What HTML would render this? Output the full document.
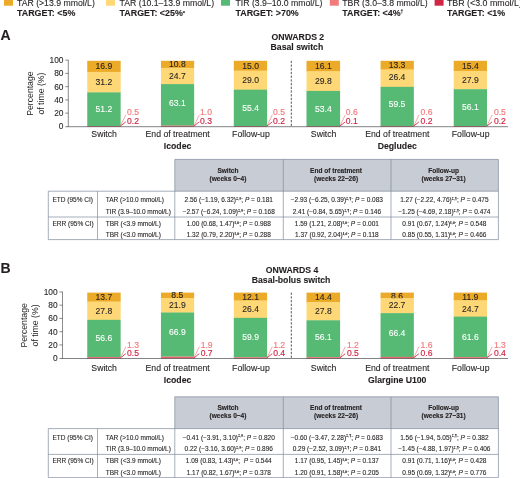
<!DOCTYPE html>
<html><head><meta charset="utf-8"><title>ONWARDS 2 and 4 CGM</title>
<style>html,body{margin:0;padding:0;background:#fff;}svg{display:block;font-family:"Liberation Sans",sans-serif;}</style>
</head><body>
<svg width="520" height="478" viewBox="0 0 520 478">
<rect width="520" height="478" fill="#ffffff"/>
<rect x="4.0" y="-1" width="9" height="6.7" fill="#ebaa27"/>
<text x="17.0" y="6.1" font-size="8.7" text-anchor="start" font-weight="normal" fill="#231f20" stroke="#231f20" stroke-width="0.1">TAR (&gt;13.9 mmol/L)</text>
<text x="17.0" y="16.35" font-size="8.9" text-anchor="start" font-weight="bold" fill="#231f20" stroke="#231f20" stroke-width="0.1">TARGET: &lt;5%</text>
<rect x="106.0" y="-1" width="9" height="6.7" fill="#fed877"/>
<text x="119.6" y="6.1" font-size="8.7" text-anchor="start" font-weight="normal" fill="#231f20" stroke="#231f20" stroke-width="0.1">TAR (10.1–13.9 mmol/L)</text>
<text x="119.6" y="16.35" font-size="8.9" text-anchor="start" font-weight="bold" fill="#231f20" stroke="#231f20" stroke-width="0.1">TARGET: &lt;25%<tspan font-size="6" dy="-1.5">*</tspan></text>
<rect x="221.0" y="-1" width="9" height="6.7" fill="#56ba74"/>
<text x="235.5" y="6.1" font-size="8.7" text-anchor="start" font-weight="normal" fill="#231f20" stroke="#231f20" stroke-width="0.1">TIR (3.9–10.0 mmol/L)</text>
<text x="235.5" y="16.35" font-size="8.9" text-anchor="start" font-weight="bold" fill="#231f20" stroke="#231f20" stroke-width="0.1">TARGET: &gt;70%</text>
<rect x="329.8" y="-1" width="9" height="6.7" fill="#f27a7b"/>
<text x="342.3" y="6.1" font-size="8.7" text-anchor="start" font-weight="normal" fill="#231f20" stroke="#231f20" stroke-width="0.1">TBR (3.0–3.8 mmol/L)</text>
<text x="342.3" y="16.35" font-size="8.9" text-anchor="start" font-weight="bold" fill="#231f20" stroke="#231f20" stroke-width="0.1">TARGET: &lt;4%<tspan font-size="5" dy="-3">†</tspan></text>
<rect x="434.6" y="-1" width="9" height="6.7" fill="#d02645"/>
<text x="446.9" y="6.1" font-size="8.85" text-anchor="start" font-weight="normal" fill="#231f20" stroke="#231f20" stroke-width="0.1">TBR (&lt;3.0 mmol/L)</text>
<text x="446.9" y="16.35" font-size="8.9" text-anchor="start" font-weight="bold" fill="#231f20" stroke="#231f20" stroke-width="0.1">TARGET: &lt;1%</text>
<text x="0.5" y="39.6" font-size="14" text-anchor="start" font-weight="bold" fill="#231f20" stroke="#231f20" stroke-width="0.1">A</text>
<text x="297.9" y="39.6" font-size="8.7" text-anchor="middle" font-weight="bold" fill="#231f20" stroke="#231f20" stroke-width="0.1">ONWARDS 2</text>
<text x="296.9" y="49.6" font-size="8.7" text-anchor="middle" font-weight="bold" fill="#231f20" stroke="#231f20" stroke-width="0.1">Basal switch</text>
<text transform="translate(32.8,93.6) rotate(-90)" font-size="8.7" text-anchor="middle" fill="#231f20">Percentage</text>
<text transform="translate(43.5,93.6) rotate(-90)" font-size="8.7" text-anchor="middle" fill="#231f20">of time (%)</text>
<rect x="87.25" y="60.80" width="33.4" height="11.39" fill="#ebaa27"/>
<text x="103.85" y="69.44" font-size="8.6" text-anchor="middle" font-weight="normal" fill="#231f20" stroke="#231f20" stroke-width="0.1">16.9</text>
<rect x="87.25" y="71.89" width="33.4" height="20.77" fill="#fed877"/>
<text x="103.85" y="85.22" font-size="8.6" text-anchor="middle" font-weight="normal" fill="#231f20" stroke="#231f20" stroke-width="0.1">31.2</text>
<rect x="87.25" y="92.35" width="33.4" height="33.89" fill="#56ba74"/>
<text x="103.85" y="112.25" font-size="8.6" text-anchor="middle" font-weight="normal" fill="#ffffff" stroke="#ffffff" stroke-width="0.1">51.2</text>
<rect x="87.25" y="125.99" width="33.4" height="0.58" fill="#f27a7b"/>
<rect x="87.25" y="126.27" width="33.4" height="0.43" fill="#d02645"/>
<line x1="120.45" y1="126.10000000000001" x2="125.85" y2="114.80000000000001" stroke="#f27a7b" stroke-width="0.65"/>
<line x1="120.45" y1="126.10000000000001" x2="125.75" y2="121.9" stroke="#d02645" stroke-width="0.85"/>
<text x="127.0" y="115.2" font-size="8.6" text-anchor="start" font-weight="normal" fill="#f27a7b" stroke="#f27a7b" stroke-width="0.15">0.5</text>
<text x="127.0" y="124.4" font-size="8.6" text-anchor="start" font-weight="normal" fill="#d02645" stroke="#d02645" stroke-width="0.15">0.2</text>
<rect x="160.95" y="60.80" width="33.2" height="7.38" fill="#ebaa27"/>
<text x="177.35" y="67.44" font-size="8.6" text-anchor="middle" font-weight="normal" fill="#231f20" stroke="#231f20" stroke-width="0.1">10.8</text>
<rect x="160.95" y="67.88" width="33.2" height="16.50" fill="#fed877"/>
<text x="177.35" y="79.09" font-size="8.6" text-anchor="middle" font-weight="normal" fill="#231f20" stroke="#231f20" stroke-width="0.1">24.7</text>
<rect x="160.95" y="84.09" width="33.2" height="41.69" fill="#56ba74"/>
<text x="177.35" y="105.68" font-size="8.6" text-anchor="middle" font-weight="normal" fill="#ffffff" stroke="#ffffff" stroke-width="0.1">63.1</text>
<rect x="160.95" y="125.58" width="33.2" height="0.86" fill="#f27a7b"/>
<rect x="160.95" y="126.14" width="33.2" height="0.50" fill="#d02645"/>
<line x1="193.95" y1="126.10000000000001" x2="199.35" y2="114.80000000000001" stroke="#f27a7b" stroke-width="0.65"/>
<line x1="193.95" y1="126.10000000000001" x2="199.25" y2="121.9" stroke="#d02645" stroke-width="0.85"/>
<text x="199.99999999999997" y="115.2" font-size="8.6" text-anchor="start" font-weight="normal" fill="#f27a7b" stroke="#f27a7b" stroke-width="0.15">1.0</text>
<text x="199.99999999999997" y="124.4" font-size="8.6" text-anchor="start" font-weight="normal" fill="#d02645" stroke="#d02645" stroke-width="0.15">0.3</text>
<rect x="233.8" y="60.80" width="33.3" height="10.14" fill="#ebaa27"/>
<text x="250.65" y="68.82" font-size="8.6" text-anchor="middle" font-weight="normal" fill="#231f20" stroke="#231f20" stroke-width="0.1">15.0</text>
<rect x="233.8" y="70.64" width="33.3" height="19.32" fill="#fed877"/>
<text x="250.65" y="83.25" font-size="8.6" text-anchor="middle" font-weight="normal" fill="#231f20" stroke="#231f20" stroke-width="0.1">29.0</text>
<rect x="233.8" y="89.66" width="33.3" height="36.64" fill="#56ba74"/>
<text x="250.65" y="110.94" font-size="8.6" text-anchor="middle" font-weight="normal" fill="#ffffff" stroke="#ffffff" stroke-width="0.1">55.4</text>
<rect x="233.8" y="126.06" width="33.3" height="0.58" fill="#f27a7b"/>
<rect x="233.8" y="126.33" width="33.3" height="0.43" fill="#d02645"/>
<line x1="266.90" y1="126.10000000000001" x2="272.30" y2="114.80000000000001" stroke="#f27a7b" stroke-width="0.65"/>
<line x1="266.90" y1="126.10000000000001" x2="272.20" y2="121.9" stroke="#d02645" stroke-width="0.85"/>
<text x="273.0" y="115.2" font-size="8.6" text-anchor="start" font-weight="normal" fill="#f27a7b" stroke="#f27a7b" stroke-width="0.15">0.5</text>
<text x="273.0" y="124.4" font-size="8.6" text-anchor="start" font-weight="normal" fill="#d02645" stroke="#d02645" stroke-width="0.15">0.2</text>
<rect x="306.5" y="60.80" width="33.6" height="10.86" fill="#ebaa27"/>
<text x="323.35" y="69.18" font-size="8.6" text-anchor="middle" font-weight="normal" fill="#231f20" stroke="#231f20" stroke-width="0.1">16.1</text>
<rect x="306.5" y="71.36" width="33.6" height="19.85" fill="#fed877"/>
<text x="323.35" y="84.24" font-size="8.6" text-anchor="middle" font-weight="normal" fill="#231f20" stroke="#231f20" stroke-width="0.1">29.8</text>
<rect x="306.5" y="90.91" width="33.6" height="35.33" fill="#56ba74"/>
<text x="323.35" y="111.53" font-size="8.6" text-anchor="middle" font-weight="normal" fill="#ffffff" stroke="#ffffff" stroke-width="0.1">53.4</text>
<rect x="306.5" y="126.00" width="33.6" height="0.63" fill="#f27a7b"/>
<rect x="306.5" y="126.33" width="33.6" height="0.37" fill="#d02645"/>
<line x1="339.90" y1="126.10000000000001" x2="345.30" y2="114.80000000000001" stroke="#f27a7b" stroke-width="0.65"/>
<line x1="339.90" y1="126.10000000000001" x2="345.20" y2="121.9" stroke="#d02645" stroke-width="0.85"/>
<text x="345.79999999999995" y="115.2" font-size="8.6" text-anchor="start" font-weight="normal" fill="#f27a7b" stroke="#f27a7b" stroke-width="0.15">0.6</text>
<text x="345.79999999999995" y="124.4" font-size="8.6" text-anchor="start" font-weight="normal" fill="#d02645" stroke="#d02645" stroke-width="0.15">0.1</text>
<rect x="380.55" y="60.80" width="33.3" height="9.02" fill="#ebaa27"/>
<text x="397.05" y="68.26" font-size="8.6" text-anchor="middle" font-weight="normal" fill="#231f20" stroke="#231f20" stroke-width="0.1">13.3</text>
<rect x="380.55" y="69.52" width="33.3" height="17.62" fill="#fed877"/>
<text x="397.05" y="80.38" font-size="8.6" text-anchor="middle" font-weight="normal" fill="#231f20" stroke="#231f20" stroke-width="0.1">26.4</text>
<rect x="380.55" y="86.84" width="33.3" height="39.33" fill="#56ba74"/>
<text x="397.05" y="107.46" font-size="8.6" text-anchor="middle" font-weight="normal" fill="#ffffff" stroke="#ffffff" stroke-width="0.1">59.5</text>
<rect x="380.55" y="125.93" width="33.3" height="0.63" fill="#f27a7b"/>
<rect x="380.55" y="126.27" width="33.3" height="0.43" fill="#d02645"/>
<line x1="413.65" y1="126.10000000000001" x2="419.05" y2="114.80000000000001" stroke="#f27a7b" stroke-width="0.65"/>
<line x1="413.65" y1="126.10000000000001" x2="418.95" y2="121.9" stroke="#d02645" stroke-width="0.85"/>
<text x="420.59999999999997" y="115.2" font-size="8.6" text-anchor="start" font-weight="normal" fill="#f27a7b" stroke="#f27a7b" stroke-width="0.15">0.6</text>
<text x="420.59999999999997" y="124.4" font-size="8.6" text-anchor="start" font-weight="normal" fill="#d02645" stroke="#d02645" stroke-width="0.15">0.2</text>
<rect x="453.7" y="60.80" width="33.3" height="10.40" fill="#ebaa27"/>
<text x="470.35" y="68.95" font-size="8.6" text-anchor="middle" font-weight="normal" fill="#231f20" stroke="#231f20" stroke-width="0.1">15.4</text>
<rect x="453.7" y="70.90" width="33.3" height="18.60" fill="#fed877"/>
<text x="470.35" y="83.15" font-size="8.6" text-anchor="middle" font-weight="normal" fill="#231f20" stroke="#231f20" stroke-width="0.1">27.9</text>
<rect x="453.7" y="89.20" width="33.3" height="37.10" fill="#56ba74"/>
<text x="470.35" y="110.21" font-size="8.6" text-anchor="middle" font-weight="normal" fill="#ffffff" stroke="#ffffff" stroke-width="0.1">56.1</text>
<rect x="453.7" y="126.06" width="33.3" height="0.58" fill="#f27a7b"/>
<rect x="453.7" y="126.33" width="33.3" height="0.43" fill="#d02645"/>
<line x1="486.80" y1="126.10000000000001" x2="492.20" y2="114.80000000000001" stroke="#f27a7b" stroke-width="0.65"/>
<line x1="486.80" y1="126.10000000000001" x2="492.10" y2="121.9" stroke="#d02645" stroke-width="0.85"/>
<text x="493.9" y="115.2" font-size="8.6" text-anchor="start" font-weight="normal" fill="#f27a7b" stroke="#f27a7b" stroke-width="0.15">0.5</text>
<text x="493.9" y="124.4" font-size="8.6" text-anchor="start" font-weight="normal" fill="#d02645" stroke="#d02645" stroke-width="0.15">0.2</text>
<line x1="68.3" y1="59.85000000000001" x2="68.3" y2="127.05000000000001" stroke="#58595b" stroke-width="0.7"/>
<line x1="65.3" y1="126.7" x2="508" y2="126.7" stroke="#58595b" stroke-width="0.75"/>
<text x="63.5" y="129.4" font-size="8.4" text-anchor="end" font-weight="normal" fill="#231f20" stroke="#231f20" stroke-width="0.1">0</text>
<line x1="65.3" y1="113.15" x2="68.3" y2="113.15" stroke="#58595b" stroke-width="0.7"/>
<text x="63.5" y="116.15" font-size="8.4" text-anchor="end" font-weight="normal" fill="#231f20" stroke="#231f20" stroke-width="0.1">20</text>
<line x1="65.3" y1="99.90" x2="68.3" y2="99.90" stroke="#58595b" stroke-width="0.7"/>
<text x="63.5" y="102.9" font-size="8.4" text-anchor="end" font-weight="normal" fill="#231f20" stroke="#231f20" stroke-width="0.1">40</text>
<line x1="65.3" y1="86.65" x2="68.3" y2="86.65" stroke="#58595b" stroke-width="0.7"/>
<text x="63.5" y="89.65" font-size="8.4" text-anchor="end" font-weight="normal" fill="#231f20" stroke="#231f20" stroke-width="0.1">60</text>
<line x1="65.3" y1="73.40" x2="68.3" y2="73.40" stroke="#58595b" stroke-width="0.7"/>
<text x="63.5" y="76.4" font-size="8.4" text-anchor="end" font-weight="normal" fill="#231f20" stroke="#231f20" stroke-width="0.1">80</text>
<line x1="65.3" y1="60.15" x2="68.3" y2="60.15" stroke="#58595b" stroke-width="0.7"/>
<text x="63.5" y="63.15" font-size="8.4" text-anchor="end" font-weight="normal" fill="#231f20" stroke="#231f20" stroke-width="0.1">100</text>
<line x1="291.3" y1="60.8" x2="291.3" y2="126.4" stroke="#58595b" stroke-width="1" stroke-dasharray="2.3 1.4"/>
<text x="104.14999999999999" y="136.5" font-size="8.7" text-anchor="middle" font-weight="normal" fill="#231f20" stroke="#231f20" stroke-width="0.1">Switch</text>
<text x="177.65" y="136.5" font-size="8.7" text-anchor="middle" font-weight="normal" fill="#231f20" stroke="#231f20" stroke-width="0.1">End of treatment</text>
<text x="250.95000000000002" y="136.5" font-size="8.7" text-anchor="middle" font-weight="normal" fill="#231f20" stroke="#231f20" stroke-width="0.1">Follow-up</text>
<text x="323.65000000000003" y="136.5" font-size="8.7" text-anchor="middle" font-weight="normal" fill="#231f20" stroke="#231f20" stroke-width="0.1">Switch</text>
<text x="397.35" y="136.5" font-size="8.7" text-anchor="middle" font-weight="normal" fill="#231f20" stroke="#231f20" stroke-width="0.1">End of treatment</text>
<text x="470.65000000000003" y="136.5" font-size="8.7" text-anchor="middle" font-weight="normal" fill="#231f20" stroke="#231f20" stroke-width="0.1">Follow-up</text>
<text x="177.54999999999998" y="149" font-size="8.7" text-anchor="middle" font-weight="bold" fill="#231f20" stroke="#231f20" stroke-width="0.1">Icodec</text>
<text x="397.25" y="149" font-size="8.7" text-anchor="middle" font-weight="bold" fill="#231f20" stroke="#231f20" stroke-width="0.1">Degludec</text>
<text x="0.5" y="273" font-size="14" text-anchor="start" font-weight="bold" fill="#231f20" stroke="#231f20" stroke-width="0.1">B</text>
<text x="292.1" y="273.1" font-size="8.7" text-anchor="middle" font-weight="bold" fill="#231f20" stroke="#231f20" stroke-width="0.1">ONWARDS 4</text>
<text x="291.1" y="283.1" font-size="8.7" text-anchor="middle" font-weight="bold" fill="#231f20" stroke="#231f20" stroke-width="0.1">Basal-bolus switch</text>
<text transform="translate(27.0,325.4) rotate(-90)" font-size="8.7" text-anchor="middle" fill="#231f20">Percentage</text>
<text transform="translate(37.7,325.4) rotate(-90)" font-size="8.7" text-anchor="middle" fill="#231f20">of time (%)</text>
<rect x="87.25" y="292.60" width="33.4" height="9.29" fill="#ebaa27"/>
<text x="103.85" y="300.19" font-size="8.6" text-anchor="middle" font-weight="normal" fill="#231f20" stroke="#231f20" stroke-width="0.1">13.7</text>
<rect x="87.25" y="301.59" width="33.4" height="18.54" fill="#fed877"/>
<text x="103.85" y="313.81" font-size="8.6" text-anchor="middle" font-weight="normal" fill="#231f20" stroke="#231f20" stroke-width="0.1">27.8</text>
<rect x="87.25" y="319.82" width="33.4" height="37.43" fill="#56ba74"/>
<text x="103.85" y="341.49" font-size="8.6" text-anchor="middle" font-weight="normal" fill="#ffffff" stroke="#ffffff" stroke-width="0.1">56.6</text>
<rect x="87.25" y="357.08" width="33.4" height="1.02" fill="#f27a7b"/>
<rect x="87.25" y="357.81" width="33.4" height="0.63" fill="#d02645"/>
<line x1="120.45" y1="357.9" x2="125.85" y2="346.59999999999997" stroke="#f27a7b" stroke-width="0.65"/>
<line x1="120.45" y1="357.9" x2="125.75" y2="353.7" stroke="#d02645" stroke-width="0.85"/>
<text x="127.10000000000001" y="348.0" font-size="8.6" text-anchor="start" font-weight="normal" fill="#f27a7b" stroke="#f27a7b" stroke-width="0.15">1.3</text>
<text x="127.10000000000001" y="355.59999999999997" font-size="8.6" text-anchor="start" font-weight="normal" fill="#d02645" stroke="#d02645" stroke-width="0.15">0.5</text>
<rect x="160.95" y="292.60" width="33.2" height="5.88" fill="#ebaa27"/>
<text x="177.35" y="298.19" font-size="8.6" text-anchor="middle" font-weight="normal" fill="#231f20" stroke="#231f20" stroke-width="0.1">8.5</text>
<rect x="160.95" y="298.18" width="33.2" height="14.67" fill="#fed877"/>
<text x="177.35" y="308.46" font-size="8.6" text-anchor="middle" font-weight="normal" fill="#231f20" stroke="#231f20" stroke-width="0.1">21.9</text>
<rect x="160.95" y="312.54" width="33.2" height="44.19" fill="#56ba74"/>
<text x="177.35" y="335.09" font-size="8.6" text-anchor="middle" font-weight="normal" fill="#ffffff" stroke="#ffffff" stroke-width="0.1">66.9</text>
<rect x="160.95" y="356.62" width="33.2" height="1.36" fill="#f27a7b"/>
<rect x="160.95" y="357.68" width="33.2" height="0.76" fill="#d02645"/>
<line x1="193.95" y1="357.9" x2="199.35" y2="346.59999999999997" stroke="#f27a7b" stroke-width="0.65"/>
<line x1="193.95" y1="357.9" x2="199.25" y2="353.7" stroke="#d02645" stroke-width="0.85"/>
<text x="200.7" y="348.0" font-size="8.6" text-anchor="start" font-weight="normal" fill="#f27a7b" stroke="#f27a7b" stroke-width="0.15">1.9</text>
<text x="200.7" y="355.59999999999997" font-size="8.6" text-anchor="start" font-weight="normal" fill="#d02645" stroke="#d02645" stroke-width="0.15">0.7</text>
<rect x="233.8" y="292.60" width="33.3" height="8.24" fill="#ebaa27"/>
<text x="250.65" y="300.27" font-size="8.6" text-anchor="middle" font-weight="normal" fill="#231f20" stroke="#231f20" stroke-width="0.1">12.1</text>
<rect x="233.8" y="300.54" width="33.3" height="17.62" fill="#fed877"/>
<text x="250.65" y="312.3" font-size="8.6" text-anchor="middle" font-weight="normal" fill="#231f20" stroke="#231f20" stroke-width="0.1">26.4</text>
<rect x="233.8" y="317.86" width="33.3" height="39.59" fill="#56ba74"/>
<text x="250.65" y="340.1" font-size="8.6" text-anchor="middle" font-weight="normal" fill="#ffffff" stroke="#ffffff" stroke-width="0.1">59.9</text>
<rect x="233.8" y="357.27" width="33.3" height="0.97" fill="#f27a7b"/>
<rect x="233.8" y="357.94" width="33.3" height="0.56" fill="#d02645"/>
<line x1="266.90" y1="357.9" x2="272.30" y2="346.59999999999997" stroke="#f27a7b" stroke-width="0.65"/>
<line x1="266.90" y1="357.9" x2="272.20" y2="353.7" stroke="#d02645" stroke-width="0.85"/>
<text x="273.2" y="348.0" font-size="8.6" text-anchor="start" font-weight="normal" fill="#f27a7b" stroke="#f27a7b" stroke-width="0.15">1.2</text>
<text x="273.2" y="355.59999999999997" font-size="8.6" text-anchor="start" font-weight="normal" fill="#d02645" stroke="#d02645" stroke-width="0.15">0.4</text>
<rect x="306.5" y="292.60" width="33.6" height="9.75" fill="#ebaa27"/>
<text x="323.35" y="300.42" font-size="8.6" text-anchor="middle" font-weight="normal" fill="#231f20" stroke="#231f20" stroke-width="0.1">14.4</text>
<rect x="306.5" y="302.05" width="33.6" height="18.54" fill="#fed877"/>
<text x="323.35" y="314.26" font-size="8.6" text-anchor="middle" font-weight="normal" fill="#231f20" stroke="#231f20" stroke-width="0.1">27.8</text>
<rect x="306.5" y="320.28" width="33.6" height="37.10" fill="#56ba74"/>
<text x="323.35" y="340.28" font-size="8.6" text-anchor="middle" font-weight="normal" fill="#ffffff" stroke="#ffffff" stroke-width="0.1">56.1</text>
<rect x="306.5" y="357.20" width="33.6" height="0.97" fill="#f27a7b"/>
<rect x="306.5" y="357.87" width="33.6" height="0.63" fill="#d02645"/>
<line x1="339.90" y1="357.9" x2="345.30" y2="346.59999999999997" stroke="#f27a7b" stroke-width="0.65"/>
<line x1="339.90" y1="357.9" x2="345.20" y2="353.7" stroke="#d02645" stroke-width="0.85"/>
<text x="346.9" y="348.0" font-size="8.6" text-anchor="start" font-weight="normal" fill="#f27a7b" stroke="#f27a7b" stroke-width="0.15">1.2</text>
<text x="346.9" y="355.59999999999997" font-size="8.6" text-anchor="start" font-weight="normal" fill="#d02645" stroke="#d02645" stroke-width="0.15">0.5</text>
<rect x="380.55" y="292.60" width="33.3" height="5.94" fill="#ebaa27"/>
<text x="397.05" y="298.52" font-size="8.6" text-anchor="middle" font-weight="normal" fill="#231f20" stroke="#231f20" stroke-width="0.1">8.6</text>
<rect x="380.55" y="298.24" width="33.3" height="15.19" fill="#fed877"/>
<text x="397.05" y="308.19" font-size="8.6" text-anchor="middle" font-weight="normal" fill="#231f20" stroke="#231f20" stroke-width="0.1">22.7</text>
<rect x="380.55" y="313.13" width="33.3" height="43.86" fill="#56ba74"/>
<text x="397.05" y="335.71" font-size="8.6" text-anchor="middle" font-weight="normal" fill="#ffffff" stroke="#ffffff" stroke-width="0.1">66.4</text>
<rect x="380.55" y="356.85" width="33.3" height="1.19" fill="#f27a7b"/>
<rect x="380.55" y="357.74" width="33.3" height="0.69" fill="#d02645"/>
<line x1="413.65" y1="357.9" x2="419.05" y2="346.59999999999997" stroke="#f27a7b" stroke-width="0.65"/>
<line x1="413.65" y1="357.9" x2="418.95" y2="353.7" stroke="#d02645" stroke-width="0.85"/>
<text x="420.59999999999997" y="348.0" font-size="8.6" text-anchor="start" font-weight="normal" fill="#f27a7b" stroke="#f27a7b" stroke-width="0.15">1.6</text>
<text x="420.59999999999997" y="355.59999999999997" font-size="8.6" text-anchor="start" font-weight="normal" fill="#d02645" stroke="#d02645" stroke-width="0.15">0.6</text>
<rect x="453.7" y="292.60" width="33.3" height="8.11" fill="#ebaa27"/>
<text x="470.35" y="300.1" font-size="8.6" text-anchor="middle" font-weight="normal" fill="#231f20" stroke="#231f20" stroke-width="0.1">11.9</text>
<rect x="453.7" y="300.41" width="33.3" height="16.50" fill="#fed877"/>
<text x="470.35" y="311.61" font-size="8.6" text-anchor="middle" font-weight="normal" fill="#231f20" stroke="#231f20" stroke-width="0.1">24.7</text>
<rect x="453.7" y="316.61" width="33.3" height="40.71" fill="#56ba74"/>
<text x="470.35" y="339.91" font-size="8.6" text-anchor="middle" font-weight="normal" fill="#ffffff" stroke="#ffffff" stroke-width="0.1">61.6</text>
<rect x="453.7" y="357.15" width="33.3" height="1.02" fill="#f27a7b"/>
<rect x="453.7" y="357.87" width="33.3" height="0.56" fill="#d02645"/>
<line x1="486.80" y1="357.9" x2="492.20" y2="346.59999999999997" stroke="#f27a7b" stroke-width="0.65"/>
<line x1="486.80" y1="357.9" x2="492.10" y2="353.7" stroke="#d02645" stroke-width="0.85"/>
<text x="493.9" y="348.0" font-size="8.6" text-anchor="start" font-weight="normal" fill="#f27a7b" stroke="#f27a7b" stroke-width="0.15">1.3</text>
<text x="493.9" y="355.59999999999997" font-size="8.6" text-anchor="start" font-weight="normal" fill="#d02645" stroke="#d02645" stroke-width="0.15">0.4</text>
<line x1="62.5" y1="291.65" x2="62.5" y2="358.84999999999997" stroke="#58595b" stroke-width="0.7"/>
<line x1="59.5" y1="358.5" x2="508" y2="358.5" stroke="#58595b" stroke-width="0.75"/>
<text x="57.7" y="361.2" font-size="8.4" text-anchor="end" font-weight="normal" fill="#231f20" stroke="#231f20" stroke-width="0.1">0</text>
<line x1="59.5" y1="344.95" x2="62.5" y2="344.95" stroke="#58595b" stroke-width="0.7"/>
<text x="57.7" y="347.95" font-size="8.4" text-anchor="end" font-weight="normal" fill="#231f20" stroke="#231f20" stroke-width="0.1">20</text>
<line x1="59.5" y1="331.70" x2="62.5" y2="331.70" stroke="#58595b" stroke-width="0.7"/>
<text x="57.7" y="334.7" font-size="8.4" text-anchor="end" font-weight="normal" fill="#231f20" stroke="#231f20" stroke-width="0.1">40</text>
<line x1="59.5" y1="318.45" x2="62.5" y2="318.45" stroke="#58595b" stroke-width="0.7"/>
<text x="57.7" y="321.45" font-size="8.4" text-anchor="end" font-weight="normal" fill="#231f20" stroke="#231f20" stroke-width="0.1">60</text>
<line x1="59.5" y1="305.20" x2="62.5" y2="305.20" stroke="#58595b" stroke-width="0.7"/>
<text x="57.7" y="308.2" font-size="8.4" text-anchor="end" font-weight="normal" fill="#231f20" stroke="#231f20" stroke-width="0.1">80</text>
<line x1="59.5" y1="291.95" x2="62.5" y2="291.95" stroke="#58595b" stroke-width="0.7"/>
<text x="57.7" y="294.95" font-size="8.4" text-anchor="end" font-weight="normal" fill="#231f20" stroke="#231f20" stroke-width="0.1">100</text>
<line x1="291.3" y1="292.59999999999997" x2="291.3" y2="358.2" stroke="#58595b" stroke-width="1" stroke-dasharray="2.3 1.4"/>
<text x="104.14999999999999" y="371" font-size="8.7" text-anchor="middle" font-weight="normal" fill="#231f20" stroke="#231f20" stroke-width="0.1">Switch</text>
<text x="177.65" y="371" font-size="8.7" text-anchor="middle" font-weight="normal" fill="#231f20" stroke="#231f20" stroke-width="0.1">End of treatment</text>
<text x="250.95000000000002" y="371" font-size="8.7" text-anchor="middle" font-weight="normal" fill="#231f20" stroke="#231f20" stroke-width="0.1">Follow-up</text>
<text x="323.65000000000003" y="371" font-size="8.7" text-anchor="middle" font-weight="normal" fill="#231f20" stroke="#231f20" stroke-width="0.1">Switch</text>
<text x="397.35" y="371" font-size="8.7" text-anchor="middle" font-weight="normal" fill="#231f20" stroke="#231f20" stroke-width="0.1">End of treatment</text>
<text x="470.65000000000003" y="371" font-size="8.7" text-anchor="middle" font-weight="normal" fill="#231f20" stroke="#231f20" stroke-width="0.1">Follow-up</text>
<text x="177.54999999999998" y="383.1" font-size="8.7" text-anchor="middle" font-weight="bold" fill="#231f20" stroke="#231f20" stroke-width="0.1">Icodec</text>
<text x="397.25" y="383.1" font-size="8.7" text-anchor="middle" font-weight="bold" fill="#231f20" stroke="#231f20" stroke-width="0.1">Glargine U100</text>
<rect x="174.8" y="159.4" width="323.59999999999997" height="31.80000000000001" fill="#c8ccd4"/>
<path d="M174.8 239.60000000000002V159.4H498.4V239.60000000000002 M283.3 159.4V239.60000000000002 M391.0 159.4V239.60000000000002 M48.3 239.60000000000002V191.20000000000002H498.4 M97.5 191.20000000000002V239.60000000000002 M48.3 217.00000000000003H498.4 M48.3 239.60000000000002H498.4" stroke="#7f8b9e" stroke-width="0.7" fill="none"/>
<text x="227.95000000000002" y="172.9" font-size="6.55" text-anchor="middle" font-weight="bold" fill="#231f20" stroke="#231f20" stroke-width="0.12">Switch</text>
<text x="227.95000000000002" y="181.0" font-size="6.55" text-anchor="middle" font-weight="bold" fill="#231f20" stroke="#231f20" stroke-width="0.12">(weeks 0–4)</text>
<text x="336.04999999999995" y="172.9" font-size="6.55" text-anchor="middle" font-weight="bold" fill="#231f20" stroke="#231f20" stroke-width="0.12">End of treatment</text>
<text x="336.04999999999995" y="181.0" font-size="6.55" text-anchor="middle" font-weight="bold" fill="#231f20" stroke="#231f20" stroke-width="0.12">(weeks 22–26)</text>
<text x="443.59999999999997" y="172.9" font-size="6.55" text-anchor="middle" font-weight="bold" fill="#231f20" stroke="#231f20" stroke-width="0.12">Follow-up</text>
<text x="443.59999999999997" y="181.0" font-size="6.55" text-anchor="middle" font-weight="bold" fill="#231f20" stroke="#231f20" stroke-width="0.12">(weeks 27–31)</text>
<text x="52.5" y="201.8" font-size="6.5" text-anchor="start" font-weight="normal" fill="#231f20" stroke="#231f20" stroke-width="0.1">ETD (95% CI)</text>
<text x="52.5" y="225.8" font-size="6.5" text-anchor="start" font-weight="normal" fill="#231f20" stroke="#231f20" stroke-width="0.1">ERR (95% CI)</text>
<text x="105.8" y="201.8" font-size="6.5" text-anchor="start" font-weight="normal" fill="#231f20" stroke="#231f20" stroke-width="0.1">TAR (&gt;10.0 mmol/L)</text>
<text x="105.8" y="213.9" font-size="6.5" text-anchor="start" font-weight="normal" fill="#231f20" stroke="#231f20" stroke-width="0.1">TIR (3.9–10.0 mmol/L)</text>
<text x="105.8" y="225.8" font-size="6.5" text-anchor="start" font-weight="normal" fill="#231f20" stroke="#231f20" stroke-width="0.1">TBR (&lt;3.9 mmol/L)</text>
<text x="105.8" y="237.0" font-size="6.5" text-anchor="start" font-weight="normal" fill="#231f20" stroke="#231f20" stroke-width="0.1">TBR (&lt;3.0 mmol/L)</text>
<text x="228.75" y="201.8" font-size="6.5" text-anchor="middle" font-weight="normal" fill="#231f20" stroke="#231f20" stroke-width="0.1">2.56 (−1.19, 6.32)<tspan font-size="3.8" dy="-2.2">‡,§</tspan><tspan dy="2.2">; </tspan><tspan font-style="italic">P</tspan> = 0.181</text>
<text x="228.75" y="213.9" font-size="6.5" text-anchor="middle" font-weight="normal" fill="#231f20" stroke="#231f20" stroke-width="0.1">−2.57 (−6.24, 1.09)<tspan font-size="3.8" dy="-2.2">‡,§</tspan><tspan dy="2.2">; </tspan><tspan font-style="italic">P</tspan> = 0.168</text>
<text x="228.75" y="225.8" font-size="6.5" text-anchor="middle" font-weight="normal" fill="#231f20" stroke="#231f20" stroke-width="0.1">1.00 (0.68, 1.47)<tspan font-size="3.8" dy="-2.2">‖,#</tspan><tspan dy="2.2">; </tspan><tspan font-style="italic">P</tspan> = 0.988</text>
<text x="228.75" y="237.0" font-size="6.5" text-anchor="middle" font-weight="normal" fill="#231f20" stroke="#231f20" stroke-width="0.1">1.32 (0.79, 2.20)<tspan font-size="3.8" dy="-2.2">‖,#</tspan><tspan dy="2.2">; </tspan><tspan font-style="italic">P</tspan> = 0.288</text>
<text x="336.84999999999997" y="201.8" font-size="6.5" text-anchor="middle" font-weight="normal" fill="#231f20" stroke="#231f20" stroke-width="0.1">−2.93 (−6.25, 0.39)<tspan font-size="3.8" dy="-2.2">‡,¶</tspan><tspan dy="2.2">; </tspan><tspan font-style="italic">P</tspan> = 0.083</text>
<text x="336.84999999999997" y="213.9" font-size="6.5" text-anchor="middle" font-weight="normal" fill="#231f20" stroke="#231f20" stroke-width="0.1">2.41 (−0.84, 5.65)<tspan font-size="3.8" dy="-2.2">‡,¶</tspan><tspan dy="2.2">; </tspan><tspan font-style="italic">P</tspan> = 0.146</text>
<text x="336.84999999999997" y="225.8" font-size="6.5" text-anchor="middle" font-weight="normal" fill="#231f20" stroke="#231f20" stroke-width="0.1">1.59 (1.21, 2.08)<tspan font-size="3.8" dy="-2.2">‖,#</tspan><tspan dy="2.2">; </tspan><tspan font-style="italic">P</tspan> = 0.001</text>
<text x="336.84999999999997" y="237.0" font-size="6.5" text-anchor="middle" font-weight="normal" fill="#231f20" stroke="#231f20" stroke-width="0.1">1.37 (0.92, 2.04)<tspan font-size="3.8" dy="-2.2">‖,#</tspan><tspan dy="2.2">; </tspan><tspan font-style="italic">P</tspan> = 0.118</text>
<text x="444.4" y="201.8" font-size="6.5" text-anchor="middle" font-weight="normal" fill="#231f20" stroke="#231f20" stroke-width="0.1">1.27 (−2.22, 4.76)<tspan font-size="3.8" dy="-2.2">‡,¶</tspan><tspan dy="2.2">; </tspan><tspan font-style="italic">P</tspan> = 0.475</text>
<text x="444.4" y="213.9" font-size="6.5" text-anchor="middle" font-weight="normal" fill="#231f20" stroke="#231f20" stroke-width="0.1">−1.25 (−4.69, 2.18)<tspan font-size="3.8" dy="-2.2">‡,¶</tspan><tspan dy="2.2">; </tspan><tspan font-style="italic">P</tspan> = 0.474</text>
<text x="444.4" y="225.8" font-size="6.5" text-anchor="middle" font-weight="normal" fill="#231f20" stroke="#231f20" stroke-width="0.1">0.91 (0.67, 1.24)<tspan font-size="3.8" dy="-2.2">‖,#</tspan><tspan dy="2.2">; </tspan><tspan font-style="italic">P</tspan> = 0.548</text>
<text x="444.4" y="237.0" font-size="6.5" text-anchor="middle" font-weight="normal" fill="#231f20" stroke="#231f20" stroke-width="0.1">0.85 (0.55, 1.31)<tspan font-size="3.8" dy="-2.2">‖,#</tspan><tspan dy="2.2">; </tspan><tspan font-style="italic">P</tspan> = 0.466</text>
<rect x="174.8" y="396.8" width="323.59999999999997" height="31.80000000000001" fill="#c8ccd4"/>
<path d="M174.8 477.6000000000001V396.8H498.4V477.6000000000001 M283.3 396.8V477.6000000000001 M391.0 396.8V477.6000000000001 M48.3 477.6000000000001V428.6H498.4 M97.5 428.6V477.6000000000001 M48.3 454.40000000000003H498.4 M48.3 477.6000000000001H498.4" stroke="#7f8b9e" stroke-width="0.7" fill="none"/>
<text x="227.95000000000002" y="410.3" font-size="6.55" text-anchor="middle" font-weight="bold" fill="#231f20" stroke="#231f20" stroke-width="0.12">Switch</text>
<text x="227.95000000000002" y="418.40000000000003" font-size="6.55" text-anchor="middle" font-weight="bold" fill="#231f20" stroke="#231f20" stroke-width="0.12">(weeks 0–4)</text>
<text x="336.04999999999995" y="410.3" font-size="6.55" text-anchor="middle" font-weight="bold" fill="#231f20" stroke="#231f20" stroke-width="0.12">End of treatment</text>
<text x="336.04999999999995" y="418.40000000000003" font-size="6.55" text-anchor="middle" font-weight="bold" fill="#231f20" stroke="#231f20" stroke-width="0.12">(weeks 22–26)</text>
<text x="443.59999999999997" y="410.3" font-size="6.55" text-anchor="middle" font-weight="bold" fill="#231f20" stroke="#231f20" stroke-width="0.12">Follow-up</text>
<text x="443.59999999999997" y="418.40000000000003" font-size="6.55" text-anchor="middle" font-weight="bold" fill="#231f20" stroke="#231f20" stroke-width="0.12">(weeks 27–31)</text>
<text x="52.5" y="439.6" font-size="6.5" text-anchor="start" font-weight="normal" fill="#231f20" stroke="#231f20" stroke-width="0.1">ETD (95% CI)</text>
<text x="52.5" y="463.20000000000005" font-size="6.5" text-anchor="start" font-weight="normal" fill="#231f20" stroke="#231f20" stroke-width="0.1">ERR (95% CI)</text>
<text x="105.8" y="439.6" font-size="6.5" text-anchor="start" font-weight="normal" fill="#231f20" stroke="#231f20" stroke-width="0.1">TAR (&gt;10.0 mmol/L)</text>
<text x="105.8" y="451.3" font-size="6.5" text-anchor="start" font-weight="normal" fill="#231f20" stroke="#231f20" stroke-width="0.1">TIR (3.9–10.0 mmol/L)</text>
<text x="105.8" y="463.20000000000005" font-size="6.5" text-anchor="start" font-weight="normal" fill="#231f20" stroke="#231f20" stroke-width="0.1">TBR (&lt;3.9 mmol/L)</text>
<text x="105.8" y="475.20000000000005" font-size="6.5" text-anchor="start" font-weight="normal" fill="#231f20" stroke="#231f20" stroke-width="0.1">TBR (&lt;3.0 mmol/L)</text>
<text x="228.75" y="439.6" font-size="6.5" text-anchor="middle" font-weight="normal" fill="#231f20" stroke="#231f20" stroke-width="0.1">−0.41 (−3.91, 3.10)<tspan font-size="3.8" dy="-2.2">‡,§</tspan><tspan dy="2.2">; </tspan><tspan font-style="italic">P</tspan> = 0.820</text>
<text x="228.75" y="451.3" font-size="6.5" text-anchor="middle" font-weight="normal" fill="#231f20" stroke="#231f20" stroke-width="0.1">0.22 (−3.16, 3.60)<tspan font-size="3.8" dy="-2.2">‡,§</tspan><tspan dy="2.2">; </tspan><tspan font-style="italic">P</tspan> = 0.896</text>
<text x="228.75" y="463.20000000000005" font-size="6.5" text-anchor="middle" font-weight="normal" fill="#231f20" stroke="#231f20" stroke-width="0.1">1.09 (0.83, 1.43)<tspan font-size="3.8" dy="-2.2">‖,#</tspan><tspan dy="2.2">;&#160; </tspan><tspan font-style="italic">P</tspan> = 0.544</text>
<text x="228.75" y="475.20000000000005" font-size="6.5" text-anchor="middle" font-weight="normal" fill="#231f20" stroke="#231f20" stroke-width="0.1">1.17 (0.82, 1.67)<tspan font-size="3.8" dy="-2.2">‖,#</tspan><tspan dy="2.2">; </tspan><tspan font-style="italic">P</tspan> = 0.378</text>
<text x="336.84999999999997" y="439.6" font-size="6.5" text-anchor="middle" font-weight="normal" fill="#231f20" stroke="#231f20" stroke-width="0.1">−0.60 (−3.47, 2.28)<tspan font-size="3.8" dy="-2.2">‡,¶</tspan><tspan dy="2.2">; </tspan><tspan font-style="italic">P</tspan> = 0.683</text>
<text x="336.84999999999997" y="451.3" font-size="6.5" text-anchor="middle" font-weight="normal" fill="#231f20" stroke="#231f20" stroke-width="0.1">0.29 (−2.52, 3.09)<tspan font-size="3.8" dy="-2.2">‡,¶</tspan><tspan dy="2.2">; </tspan><tspan font-style="italic">P</tspan> = 0.841</text>
<text x="336.84999999999997" y="463.20000000000005" font-size="6.5" text-anchor="middle" font-weight="normal" fill="#231f20" stroke="#231f20" stroke-width="0.1">1.17 (0.95, 1.45)<tspan font-size="3.8" dy="-2.2">‖,#</tspan><tspan dy="2.2">; </tspan><tspan font-style="italic">P</tspan> = 0.137</text>
<text x="336.84999999999997" y="475.20000000000005" font-size="6.5" text-anchor="middle" font-weight="normal" fill="#231f20" stroke="#231f20" stroke-width="0.1">1.20 (0.91, 1.58)<tspan font-size="3.8" dy="-2.2">‖,#</tspan><tspan dy="2.2">; </tspan><tspan font-style="italic">P</tspan> = 0.205</text>
<text x="444.4" y="439.6" font-size="6.5" text-anchor="middle" font-weight="normal" fill="#231f20" stroke="#231f20" stroke-width="0.1">1.56 (−1.94, 5.05)<tspan font-size="3.8" dy="-2.2">‡,¶</tspan><tspan dy="2.2">; </tspan><tspan font-style="italic">P</tspan> = 0.382</text>
<text x="444.4" y="451.3" font-size="6.5" text-anchor="middle" font-weight="normal" fill="#231f20" stroke="#231f20" stroke-width="0.1">−1.45 (−4.88, 1.97)<tspan font-size="3.8" dy="-2.2">‡,¶</tspan><tspan dy="2.2">; </tspan><tspan font-style="italic">P</tspan> = 0.406</text>
<text x="444.4" y="463.20000000000005" font-size="6.5" text-anchor="middle" font-weight="normal" fill="#231f20" stroke="#231f20" stroke-width="0.1">0.91 (0.71, 1.16)<tspan font-size="3.8" dy="-2.2">‖,#</tspan><tspan dy="2.2">; </tspan><tspan font-style="italic">P</tspan> = 0.428</text>
<text x="444.4" y="475.20000000000005" font-size="6.5" text-anchor="middle" font-weight="normal" fill="#231f20" stroke="#231f20" stroke-width="0.1">0.95 (0.69, 1.32)<tspan font-size="3.8" dy="-2.2">‖,#</tspan><tspan dy="2.2">; </tspan><tspan font-style="italic">P</tspan> = 0.776</text>
</svg>
</body></html>
